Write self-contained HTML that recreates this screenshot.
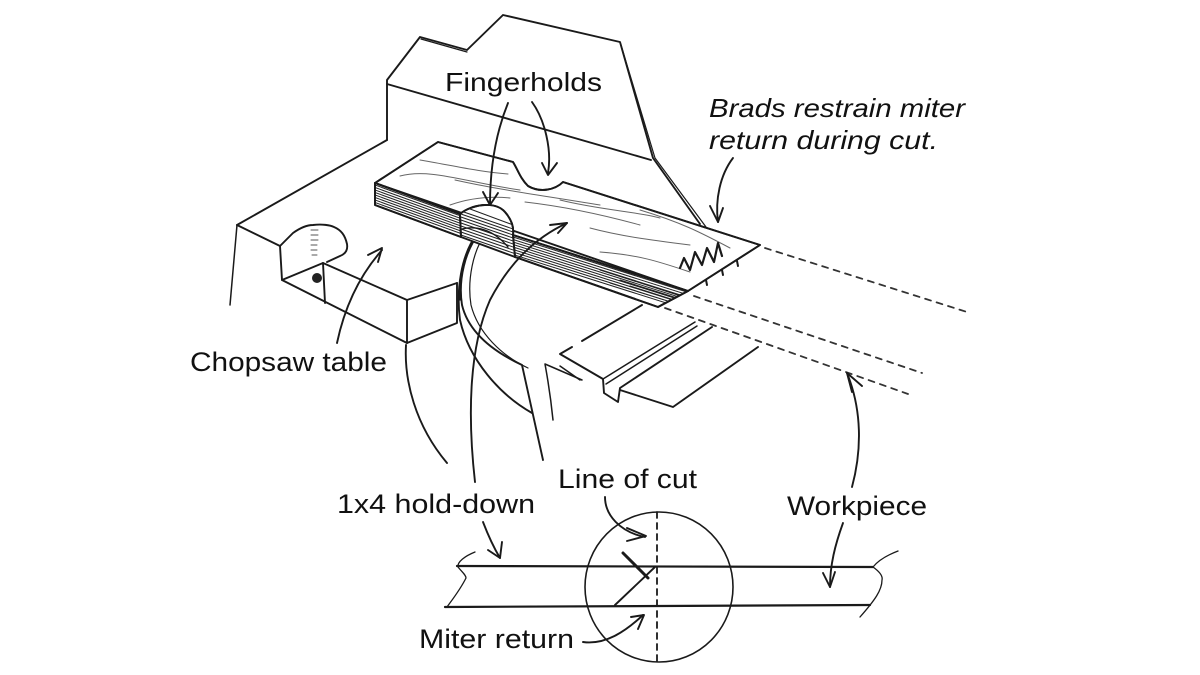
<!DOCTYPE html>
<html><head><meta charset="utf-8"><style>
html,body{margin:0;padding:0;background:#fff;}
svg{display:block;}
text{font-family:"Liberation Sans",Arial,sans-serif;fill:#111;}
</style></head><body>
<svg width="1200" height="675" viewBox="0 0 1200 675" xmlns="http://www.w3.org/2000/svg">
<defs>
<clipPath id="cl"><polygon points="375,183 460,214 461,237 375,205"/></clipPath>
<clipPath id="cr"><polygon points="513,235 688,291 658,307 515,257"/></clipPath>
<clipPath id="cn"><path d="M460,214 C470,205 495,200 505,212 C512,220 514,228 513,235 L515,257 L461,237 Z"/></clipPath>
</defs>
<g fill="none" stroke="#1a1a1a" stroke-width="1.9" stroke-linecap="round" stroke-linejoin="round">
<!-- fence -->
<path d="M387,140 L387,80 L420,37 L467,50 L503,15 L620,42 L653,158 L700,224"/>
<path d="M421,39 L467,52 M621,45 L655,158 L706,227" stroke-width="1.2"/>
<path d="M387,84 L651,160"/>
<path d="M387,140 L237,225"/>
<!-- table -->
<path d="M237,225 L230,305" stroke-width="1.5"/>
<path d="M237,225 L280,246 L282,280 L407,343 L457,323 L457,283"/>
<path d="M323,263 L407,300 L407,343 M407,300 L457,283"/>
<path d="M282,280 L323,263 L325,303"/>
<path d="M280,246 L293,233 C300,228 307,225 313,225 C322,224 330,225 334,227 C341,230 345,235 347,244 C348,250 345,254 340,256 L327,262"/>
<path d="M311,230 L318,230 M311,235 L318,235 M311,240 L318,240 M311,245 L317,245 M311,250 L317,250 M312,255 L317,255" stroke-width="1" stroke="#555"/>
<circle cx="317" cy="278" r="5" fill="#222" stroke="none"/>
<path d="M406,345 C404,380 415,425 447,463"/>
<!-- molding / workpiece at saw -->
<path d="M642,305 L582,341 M572,347 L560,354 L603,379"/>
<path d="M603,379 L695,322 M606,384 L697,326" stroke-width="1.5"/>
<path d="M603,379 L604,393 L618,402 L620,388 L712,327"/>
<path d="M620,390 L673,407 L758,347"/>
<path d="M560,366 L580,380" stroke-width="1.5"/>
<path d="M553,420 C550,390 546,370 545,364 L582,380" stroke-width="1.5"/>
<!-- dashed -->
<g stroke-dasharray="6 6" stroke="#333" stroke-width="1.8">
<path d="M765,248 L967,312"/>
<path d="M694,296 L922,373"/>
<path d="M665,308 L908,394"/>
</g>
<!-- hold-down bundle -->
<path d="M480,232 C465,250 458,280 462,305 C468,330 490,350 522,365 L543,460"/>
<path d="M486,233 C473,250 467,280 471,305 C478,333 502,356 528,368" stroke-width="1.2"/>
<path d="M477,234 C461,255 456,290 460,320 C469,360 500,395 532,413"/>
<path d="M474,238 C464,255 460,270 460,300" stroke-width="1.2"/>
<!-- board -->
<path d="M375,183 L438,142 L513,162 C518,170 520,178 528,186 C540,193 555,190 563,182 L760,245 L688,291 Z" fill="#fff"/>
<path d="M375,183 L460,214 L461,237 L375,205 Z" fill="#fff"/>
<path d="M513,235 L688,291 L658,307 L515,257 Z" fill="#fff"/>
<path d="M460,214 C470,205 495,200 505,212 C512,220 514,228 513,235 L515,257 L461,237 Z" fill="#fff"/>
<g clip-path="url(#cl)" stroke="#222" stroke-width="1">
<path d="M375,185 L461,216 M375,187.5 L461,218.5 M375,190 L461,221 M375,192.5 L461,223.5 M375,195 L461,226 M375,197.5 L461,228.5 M375,200 L461,231 M375,202.5 L461,233.5"/>
</g>
<g clip-path="url(#cr)" stroke="#222" stroke-width="1">
<path d="M513,237 L690,293 M513,239.5 L690,295.5 M513,242 L690,298 M513,244.5 L690,300.5 M513,247 L690,303 M513,249.5 L690,305.5 M513,252 L690,308 M513,254.5 L690,310.5 M600,270 L690,299 M620,280 L690,302 M630,286 L690,305 M610,283 L690,308"/>
</g>
<g clip-path="url(#cn)" stroke="#222" stroke-width="1">
<path d="M458,210 L516,230 M458,213 L516,233 M458,216 L516,236 M458,219 L516,239 M458,222 L516,242 M458,225 L516,245 M458,228 L516,248 M458,231 L516,251 M458,234 L516,254 M462,206 L516,226"/>
</g>
<path d="M462,229 C475,226 492,228 508,247" stroke-width="1.4"/>
<path d="M375,183 L438,142 L513,162 C518,170 520,178 528,186 C540,193 555,190 563,182 L760,245 L688,291"/>
<path d="M375,183 L460,214 M513,235 L688,291"/>
<path d="M375,183 L375,205 L461,237 M515,257 L658,307 L688,291"/>
<path d="M460,214 L461,237 M460,214 C470,205 495,200 505,212 C512,220 514,228 513,235 L515,257"/>
<!-- grain -->
<g stroke="#666" stroke-width="1">
<path d="M400,176 C430,168 465,182 520,190"/>
<path d="M420,160 C450,165 480,172 508,174"/>
<path d="M455,180 C500,190 540,195 600,205"/>
<path d="M525,202 C560,206 600,214 640,225"/>
<path d="M560,200 C600,210 640,212 660,218"/>
<path d="M590,228 C620,236 650,240 690,245"/>
<path d="M600,252 C640,255 660,262 690,272"/>
<path d="M640,210 C680,222 700,232 730,248"/>
<path d="M450,205 C470,198 490,196 510,198"/>
</g>
<!-- brads -->
<path d="M680,268 L684,258 L690,270 L695,252 L702,265 L707,248 L714,262 L718,243 L722,256" stroke-width="2.2"/>
<path d="M706,280 L707,285 M722,270 L723,275 M737,261 L738,266" stroke-width="2"/>
<!-- leader arrows -->
<path d="M475,482 C468,420 468,350 490,300 C510,262 535,238 567,223"/>
<path d="M550,225 L567,223 L558,233"/>
<path d="M508,103 C495,135 490,170 490,205"/>
<path d="M483,192 L490,205 L498,193"/>
<path d="M532,102 C545,120 552,150 548,173"/>
<path d="M542,163 L548,175 L557,163"/>
<path d="M733,158 C720,175 715,200 718,222"/>
<path d="M710,206 L718,222 L723,208"/>
<path d="M337,343 C345,305 360,275 382,250"/>
<path d="M368,255 L382,248 L378,262"/>
<path d="M852,487 C862,450 862,410 847,373"/>
<path d="M862,386 L847,373 L852,392"/>
<path d="M843,523 C835,545 830,565 830,587"/>
<path d="M823,573 L830,587 L835,572"/>
<path d="M483,522 C488,535 494,548 500,558"/>
<path d="M488,550 L500,558 L502,542"/>
<path d="M605,497 C605,515 620,532 645,537"/>
<path d="M627,528 L646,536 L627,541"/>
<path d="M583,642 C605,645 625,632 643,615"/>
<path d="M631,617 L644,615 L638,629"/>
<!-- bottom detail -->
<path d="M457,566 L873,567" stroke-width="2.2"/>
<path d="M445,607 L870,605" stroke-width="2.2"/>
<path d="M475,552 C465,556 457,562 458,567 C462,572 466,575 466,578 C460,590 452,600 447,607" stroke-width="1.3"/>
<path d="M898,551 C885,556 877,562 873,567 C880,572 883,576 882,580 C882,590 875,600 860,617" stroke-width="1.3"/>
<ellipse cx="659" cy="587" rx="74" ry="75" stroke-width="1.6"/>
<path d="M657,512 L657,662" stroke-dasharray="6 5" stroke-width="1.8"/>
<path d="M615,605 L655,567"/>
<path d="M623,553 L648,578" stroke-width="3"/>
</g>
<!-- labels -->
<text x="445" y="91" font-size="26" textLength="157" lengthAdjust="spacingAndGlyphs">Fingerholds</text>
<text x="709" y="117" font-size="26" font-style="italic" textLength="256" lengthAdjust="spacingAndGlyphs">Brads restrain miter</text>
<text x="709" y="149" font-size="26" font-style="italic" textLength="229" lengthAdjust="spacingAndGlyphs">return during cut.</text>
<text x="190" y="371" font-size="27" textLength="197" lengthAdjust="spacingAndGlyphs">Chopsaw table</text>
<text x="337" y="513" font-size="27" textLength="198" lengthAdjust="spacingAndGlyphs">1x4 hold-down</text>
<text x="558" y="488" font-size="27" textLength="139" lengthAdjust="spacingAndGlyphs">Line of cut</text>
<text x="787" y="515" font-size="27" textLength="140" lengthAdjust="spacingAndGlyphs">Workpiece</text>
<text x="419" y="648" font-size="27" textLength="155" lengthAdjust="spacingAndGlyphs">Miter return</text>
</svg>
</body></html>
